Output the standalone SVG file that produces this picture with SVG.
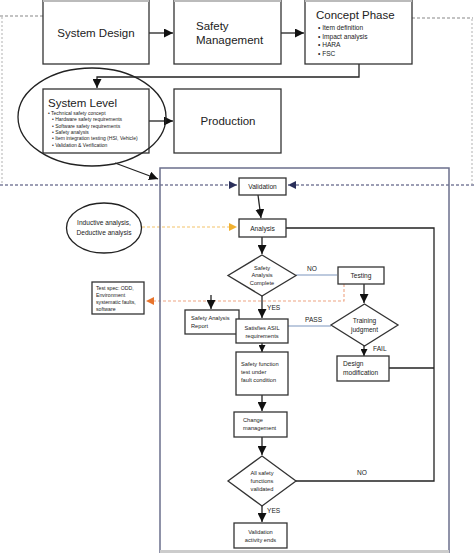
<svg xmlns="http://www.w3.org/2000/svg" width="474" height="553" viewBox="0 0 474 553">
<defs>
<marker id="ab" markerUnits="userSpaceOnUse" markerWidth="10" markerHeight="9" refX="9" refY="4.5" orient="auto"><path d="M0,0 L9,4.5 L0,9 Z" fill="#111"/></marker>
<marker id="as" markerUnits="userSpaceOnUse" markerWidth="8" markerHeight="7" refX="7" refY="3.5" orient="auto"><path d="M0,0 L7,3.5 L0,7 Z" fill="#111"/></marker>
<marker id="an" markerUnits="userSpaceOnUse" markerWidth="9" markerHeight="8" refX="8" refY="4" orient="auto"><path d="M0,0 L8,4 L0,8 Z" fill="#2a2f5a"/></marker>
<marker id="ay" markerUnits="userSpaceOnUse" markerWidth="9" markerHeight="8" refX="8" refY="4" orient="auto"><path d="M0,0 L8,4 L0,8 Z" fill="#f0b030"/></marker>
<marker id="ao" markerUnits="userSpaceOnUse" markerWidth="9" markerHeight="8" refX="8" refY="4" orient="auto"><path d="M0,0 L8,4 L0,8 Z" fill="#e8742c"/></marker>
</defs>
<style>
text{font-family:"Liberation Sans",Arial,sans-serif;fill:#222}
.box{fill:#fff;stroke:#333;stroke-width:1.3}
.big{font-size:11.5px}
.sm{font-size:6.6px}
.xs{font-size:5px}
.f{font-size:5.7px}
.ts{font-size:5.2px}
.t{font-size:6.6px}
.ln{fill:none;stroke:#222;stroke-width:1.3}
.bl{fill:none;stroke:#7d95bd;stroke-width:1.1}
.gd{fill:none;stroke:#888;stroke-width:1.2;stroke-dasharray:3,2}
.gv{fill:none;stroke:#ccc;stroke-width:1.5;stroke-dasharray:2,2}
.nd{fill:none;stroke:#3a3f6a;stroke-width:1.2;stroke-dasharray:3,2}
</style>
<rect width="474" height="553" fill="#fff"/>

<g id="connectors">
<path class="gd" d="M0,16 H43"/>
<path class="gv" d="M2,17 V184"/>
<path class="gd" d="M412,18 H473"/>
<path class="gv" d="M472,19 V184"/>
<path class="nd" d="M0,185 H237" marker-end="url(#an)"/>
<path class="nd" d="M474,185 H288" marker-end="url(#an)"/>
<path class="ln" d="M149,33 H173" marker-end="url(#ab)"/>
<path class="ln" d="M281,33 H304" marker-end="url(#ab)"/>
<path class="ln" d="M359,64 V77 H97 V88" marker-end="url(#ab)"/>
<path class="ln" d="M149,121 H173" marker-end="url(#ab)"/>
<path class="ln" d="M115,163 L158,179" marker-end="url(#ab)"/>
<path class="ln" d="M258,195 L261,218" marker-end="url(#ab)"/>
<path d="M142,227 H237" fill="none" stroke="#f3c46a" stroke-width="1.1" stroke-dasharray="3,2" marker-end="url(#ay)"/>
<path class="ln" d="M286,228 H434 V481 H296"/>
<path class="ln" d="M389,368 H434"/>
<path class="ln" d="M262,237 V254" marker-end="url(#ab)"/>
<path class="bl" d="M296,275 H337"/>
<path class="ln" d="M364,284 V303" marker-end="url(#ab)"/>
<path d="M344,284 V301 H146" fill="none" stroke="#eea482" stroke-width="1.1" stroke-dasharray="3,2" marker-end="url(#ao)"/>
<path class="ln" d="M211,295 V309" marker-end="url(#ab)"/>
<path class="ln" d="M262,296 V318" marker-end="url(#ab)"/>
<path class="bl" d="M288,326 H331"/>
<path class="ln" d="M364,346 V356" marker-end="url(#as)"/>
<path class="ln" d="M262,343 V352" marker-end="url(#as)"/>
<path class="ln" d="M262,395 V411" marker-end="url(#ab)"/>
<path class="ln" d="M262,437 V455" marker-end="url(#ab)"/>
<path class="ln" d="M262,505 V522" marker-end="url(#ab)"/>
<text class="sm" x="307" y="271">NO</text>
<text class="sm" x="305" y="322">PASS</text>
<text class="sm" x="267" y="310">YES</text>
<text class="sm" x="373" y="351">FAIL</text>
<text class="sm" x="357" y="475">NO</text>
<text class="sm" x="267" y="513">YES</text>
</g>

<g id="frame"><rect x="160" y="168" width="289" height="386" fill="none" stroke="#6b6f8c" stroke-width="1.5"/><rect x="160" y="550" width="289" height="3" fill="#ccc"/></g>

<g id="system-design"><rect class="box" x="43" y="-1" width="106" height="65"/><rect x="43" y="0" width="106" height="2" fill="#bbb"/><text class="big" x="96" y="37" text-anchor="middle">System Design</text></g>
<g id="safety-management"><rect class="box" x="174" y="-1" width="107" height="65"/><rect x="174" y="0" width="107" height="2" fill="#bbb"/><text class="big" x="196" y="30">Safety</text><text class="big" x="196" y="44">Management</text></g>
<g id="concept-phase"><rect class="box" x="305" y="-1" width="107" height="65"/><rect x="305" y="0" width="107" height="2" fill="#bbb"/><text class="big" x="316" y="19">Concept Phase</text>
<text class="sm" x="318" y="30">• Item definition</text><text class="sm" x="318" y="39">• Impact analysis</text><text class="sm" x="318" y="47">• HARA</text><text class="sm" x="318" y="56">• FSC</text></g>

<g id="system-level"><rect class="box" x="43" y="89" width="106" height="64"/><text class="big" x="48" y="107">System Level</text>
<text class="xs" x="48" y="114.5">• Technical safety concept</text>
<text class="xs" x="52" y="121">• Hardware safety requirements</text>
<text class="xs" x="52" y="127.5">• Software safety requirements</text>
<text class="xs" x="52" y="133.5">• Safety analysis</text>
<text class="xs" x="52" y="140">• Item integration testing (HSI, Vehicle)</text>
<text class="xs" x="52" y="146.5">• Validation &amp; Verification</text>
<ellipse cx="92" cy="117" rx="74" ry="49" fill="none" stroke="#222" stroke-width="1.3"/></g>

<g id="production"><rect class="box" x="174" y="89" width="107" height="64"/><text class="big" x="228" y="125" text-anchor="middle">Production</text></g>

<g id="inductive"><ellipse cx="104" cy="228" rx="37.5" ry="25" fill="#fff" stroke="#222" stroke-width="1.3"/><text class="sm" x="104" y="225" text-anchor="middle">Inductive analysis,</text><text class="sm" x="104" y="235" text-anchor="middle">Deductive analysis</text></g>

<g id="validation"><rect class="box" x="239" y="178" width="47" height="17"/><text class="t" x="262.5" y="189" text-anchor="middle">Validation</text></g>
<g id="analysis"><rect class="box" x="239" y="219" width="47" height="18"/><text class="t" x="262.5" y="230.5" text-anchor="middle">Analysis</text></g>

<g id="safety-analysis-complete"><polygon class="box" points="262,255 296,275.5 262,296 228,275.5"/><text class="f" x="262" y="269.5" text-anchor="middle">Safety</text><text class="f" x="262" y="277" text-anchor="middle">Analysis</text><text class="f" x="262" y="284.5" text-anchor="middle">Complete</text></g>

<g id="testing"><rect class="box" x="338" y="267" width="46" height="17"/><text class="t" x="361" y="278" text-anchor="middle">Testing</text></g>

<g id="test-spec"><rect class="box" x="92" y="282" width="52" height="32"/><text class="ts" x="96" y="289.5">Test spec: ODD,</text><text class="ts" x="96" y="296.5">Environment</text><text class="ts" x="96" y="303.5">systematic faults,</text><text class="ts" x="96" y="310.5">software</text></g>

<g id="safety-analysis-report"><rect class="box" x="185" y="310" width="54" height="24"/><text class="f" x="191" y="320">Safety Analysis</text><text class="f" x="191" y="328">Report</text></g>

<g id="satisfies-asil"><rect class="box" x="236" y="319" width="52" height="24"/><text class="f" x="262" y="329.5" text-anchor="middle">Satisfies ASIL</text><text class="f" x="262" y="337.5" text-anchor="middle">requirements</text></g>

<g id="training-judgment"><polygon class="box" points="364.5,304 398,325 364.5,346 331,325"/><text class="t" x="364.5" y="323" text-anchor="middle">Training</text><text class="t" x="364.5" y="331.5" text-anchor="middle">judgment</text></g>

<g id="design-modification"><rect class="box" x="337" y="356" width="52" height="25"/><text class="t" x="343" y="366">Design</text><text class="t" x="343" y="375">modification</text></g>

<g id="safety-function-test"><rect class="box" x="236" y="352" width="52" height="43"/><text class="f" x="241" y="366">Safety function</text><text class="f" x="241" y="374">test under</text><text class="f" x="241" y="382">fault condition</text></g>

<g id="change-management"><rect class="box" x="234" y="412" width="53" height="25"/><text class="f" x="243" y="422">Change</text><text class="f" x="243" y="430">management</text></g>

<g id="all-safety-functions"><polygon class="box" points="262,456 296,481 262,506 228,481"/><text class="f" x="262" y="475" text-anchor="middle">All safety</text><text class="f" x="262" y="483" text-anchor="middle">functions</text><text class="f" x="262" y="491" text-anchor="middle">validated</text></g>

<g id="validation-ends"><rect class="box" x="234" y="523" width="53" height="25"/><text class="f" x="260.5" y="533.5" text-anchor="middle">Validation</text><text class="f" x="260.5" y="541.5" text-anchor="middle">activity ends</text></g>
</svg>
